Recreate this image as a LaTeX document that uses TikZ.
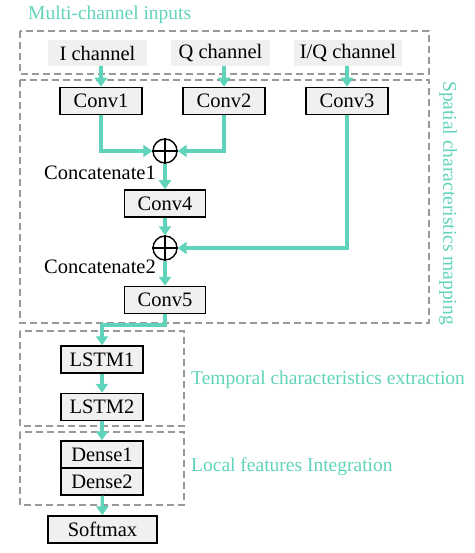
\documentclass[tikz,border=0pt]{standalone}
\usepackage{fontspec}
\setmainfont{Liberation Serif}
\usetikzlibrary{positioning,calc,arrows.meta}
\definecolor{tealc}{RGB}{96,212,186}
\definecolor{boxfill}{RGB}{240,240,240}

\begin{document}
\begin{tikzpicture}[x=1pt,y=-1pt,font=\fontsize{20.5}{23}\selectfont,
 b/.style={draw,line width=1.5pt,fill=boxfill,minimum width=82pt,minimum height=27pt,inner sep=0pt},
 inp/.style={fill=boxfill,minimum height=26pt,inner sep=0pt},
 pl/.style={circle,draw,line width=1.4pt,fill=white,minimum size=24pt,inner sep=0pt},
 lab/.style={text=tealc,font=\fontsize{19.5}{22}\selectfont,inner sep=0pt},
 grp/.style={draw=black!40,line width=1.4pt,dash pattern=on 7pt off 4pt},
 ar/.style={-{Triangle[width=12pt,length=9pt]},draw=tealc,line width=3.2pt}]
\useasboundingbox (0,0) rectangle (474,553);
% group frames
\draw[grp] (20,31) rectangle (429,74);
\draw[grp] (20,80) rectangle (429,323);
\draw[grp] (20,331) rectangle (184,426);
\draw[grp] (20,432) rectangle (184,505);
\node[lab,anchor=west] (tin) at (28,15) {Multi-channel inputs};
\node[lab,rotate=-90] (tsp) at (448,203) {Spatial characteristics mapping};
\node[lab,anchor=west] (tte) at (191,380) {Temporal characteristics extraction};
\node[lab,anchor=west] (tlf) at (191,467) {Local features Integration};
% inputs
\node[inp,minimum width=99pt] (ich) at (97.5,53) {I channel};
\node[inp,minimum width=99pt] (qch) at (220.5,53) {Q channel};
\node[inp,minimum width=108pt] (iqch) at (348,53) {I/Q channel};
% spatial part
\node[b] (c1) at (101,101) {Conv1};
\node[b] (c2) at (224,101) {Conv2};
\node[b] (c3) at (347,101) {Conv3};
\node[pl] (p1) at (165,151) {};
\node[anchor=east,inner sep=0pt] (cat1) at (156,173) {Concatenate1};
\node[b,minimum width=81pt] (c4) at (165,203.5) {Conv4};
\node[pl] (p2) at (165,248) {};
\node[anchor=east,inner sep=0pt] (cat2) at (156,267) {Concatenate2};
\node[b,minimum width=81pt] (c5) at (165,300) {Conv5};
\coordinate (bend) at (165,325);
% temporal and dense part
\node[b] (l1) at (102,359.5) {LSTM1};
\node[b] (l2) at (102,407) {LSTM2};
\node[b] (d1) at (102,454.5) {Dense1};
\node[b] (d2) at (102,481.5) {Dense2};
\node[b,minimum width=109pt] (sm) at (102.5,529.5) {Softmax};
\draw[ar] (ich.south -| c1) -- (c1); \draw[ar] (qch.south -| c2) -- (c2);
\draw[ar] (iqch.south -| c3) -- (c3);
\draw[ar] (c1) |- (p1); \draw[ar] (c2) |- (p1);
\draw[ar] (p1) -- (c4); \draw[ar] (c4) -- (p2);
\draw[ar] (c3) |- (p2); \draw[ar] (p2) -- (c5);
\draw[ar] (c5) -- (bend) -| (l1);
\draw[ar] (l1) -- (l2); \draw[ar] (l2) -- (d1); \draw[ar] (d2) -- (sm);
% plus signs
\foreach \p in {p1,p2}
 \draw[line width=1.4pt] (\p.north) -- (\p.south) (\p.west) -- (\p.east);
\end{tikzpicture}
\end{document}
